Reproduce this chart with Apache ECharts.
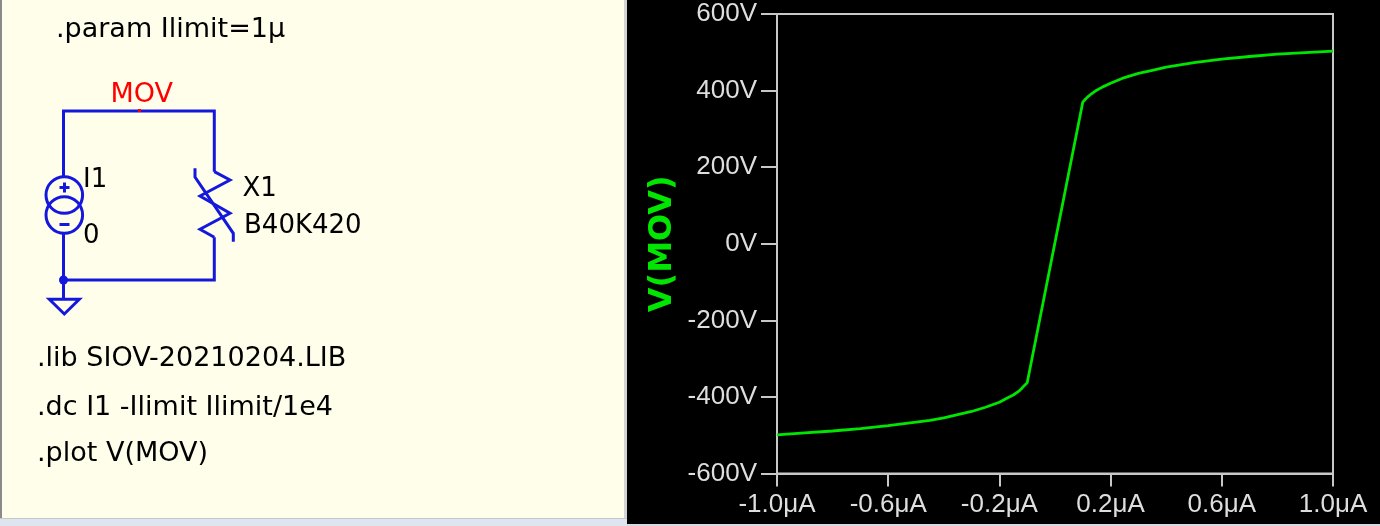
<!DOCTYPE html>
<html>
<head>
<meta charset="utf-8">
<script src="https://cdn.jsdelivr.net/npm/echarts@6/dist/echarts.min.js"></script>
<style>
  html, body { margin: 0; padding: 0; background: #000; }
  #chart { width: 1380px; height: 526px; }
</style>
</head>
<body>
<div id="chart"></div>
<script>
// ---- data ----
const currentUA = [-1.0, -0.9, -0.8, -0.7, -0.6, -0.5, -0.45, -0.4, -0.35, -0.3, -0.25, -0.2, -0.17, -0.15, -0.13, -0.12, -0.11, -0.1,
                   0.1, 0.11, 0.12, 0.13, 0.15, 0.17, 0.2, 0.25, 0.3, 0.35, 0.4, 0.45, 0.5, 0.6, 0.7, 0.8, 0.9, 1.0];
const voltageV  = [-499, -494, -489, -483, -475, -466, -461, -455, -446, -438, -427, -414, -402, -395, -385, -378, -370, -363,
                   370, 378, 385, 391, 401, 409, 419, 434, 445, 453, 461, 467, 473, 482, 489, 495, 499, 503];
const xTickValues = [-1.0, -0.6, -0.2, 0.2, 0.6, 1.0];
const yTickMin = -600, yTickMax = 600, yTickStep = 200;
const traceName = 'V(MOV)';
const directives = ['.lib SIOV-20210204.LIB', '.dc I1 -Ilimit Ilimit/1e4', '.plot V(MOV)'];
const paramText = '.param Ilimit=1\u03bc';

const seriesData = currentUA.map((x, i) => [x, voltageV[i]]);

const WIRE = '#1418dc';
const AX = '#c8c8c8';
const LBL = '#dedede';
const GREEN = '#00e600';
const TXT_FONT = '27px "DejaVu Sans"';
const LBL_FONT = '26px "DejaVu Sans"';

function wire(points) {
  return { type: 'polyline', shape: { points }, style: { stroke: WIRE, lineWidth: 3, fill: null }, silent: true };
}
function text(x, y, s, font, fill) {
  return { type: 'text', style: { x, y, text: s, font, fill: fill || '#000', verticalAlign: 'middle', align: 'left' }, silent: true };
}

const graphics = [
  // left schematic panel
  { type: 'rect', shape: { x: 0, y: 0, width: 627, height: 526 }, style: { fill: '#fffeea' }, z: -10, silent: true },
  { type: 'rect', shape: { x: 0, y: 0, width: 2, height: 518 }, style: { fill: '#8a8a8a' }, silent: true },
  { type: 'rect', shape: { x: 624, y: 0, width: 3, height: 526 }, style: { fill: '#d4d4d4' }, silent: true },
  { type: 'rect', shape: { x: 0, y: 518, width: 627, height: 8 }, style: { fill: '#dfe5ee' }, silent: true },
  { type: 'rect', shape: { x: 0, y: 518, width: 627, height: 1 }, style: { fill: '#c4c8cc' }, silent: true },
  { type: 'rect', shape: { x: 627, y: 524, width: 753, height: 2 }, style: { fill: '#d6dbe2' }, silent: true },

  // wires
  wire([[214.3, 171.7], [214.3, 111], [63.5, 111], [63.5, 176.7]]),
  wire([[63.5, 233.3], [63.5, 299.3]]),
  wire([[63.5, 280], [214.3, 280], [214.3, 237.3]]),
  // varistor zigzag and slash
  wire([[214.3, 171.7], [230, 180], [200, 196], [230, 213.3], [200, 229.3], [214.3, 237.3]]),
  wire([[195, 168.3], [195, 177], [233.3, 233.3], [233.3, 241.7]]),
  // current source
  { type: 'circle', shape: { cx: 64.3, cy: 195, r: 18.3 }, style: { stroke: WIRE, lineWidth: 3, fill: null }, silent: true },
  { type: 'circle', shape: { cx: 64.3, cy: 215, r: 18.3 }, style: { stroke: WIRE, lineWidth: 3, fill: null }, silent: true },
  wire([[59.5, 187.5], [69.5, 187.5]]),
  wire([[64.5, 182.5], [64.5, 192.5]]),
  wire([[59.5, 224.5], [69.5, 224.5]]),
  // junction + ground
  { type: 'circle', shape: { cx: 63.5, cy: 280, r: 4.5 }, style: { fill: WIRE }, silent: true },
  { type: 'polygon', shape: { points: [[49.3, 299.3], [79.3, 299.3], [64.3, 314]] }, style: { stroke: WIRE, lineWidth: 3, fill: null }, silent: true },
  // net label dot
  { type: 'rect', shape: { x: 138, y: 109, width: 3, height: 3 }, style: { fill: '#ff0000' }, silent: true, z: 10 },

  // texts
  text(56, 30, paramText, TXT_FONT),
  text(110.5, 95, 'MOV', TXT_FONT, '#ff0000'),
  text(83, 180, 'I1', LBL_FONT),
  text(83, 236.5, '0', LBL_FONT),
  text(242.5, 189, 'X1', LBL_FONT),
  text(244, 226.5, 'B40K420', LBL_FONT),
  text(37, 359, directives[0], TXT_FONT),
  text(37, 408, directives[1], TXT_FONT),
  text(37, 454, directives[2], TXT_FONT)
];

const chart = echarts.init(document.getElementById('chart'), null, { renderer: 'canvas' });
chart.setOption({
  backgroundColor: '#000',
  animation: false,
  graphic: graphics,
  grid: {
    left: 777, top: 14, width: 556, height: 459.5,
    show: true, borderColor: AX, borderWidth: 2, backgroundColor: 'transparent'
  },
  xAxis: {
    type: 'value', min: -1, max: 1,
    axisLine: { show: true, onZero: false, lineStyle: { color: AX, width: 2 } },
    axisTick: { show: true, length: 13, customValues: xTickValues, lineStyle: { color: AX, width: 2 } },
    axisLabel: {
      customValues: xTickValues, margin: 18, color: LBL,
      fontFamily: 'Liberation Sans', fontSize: 26,
      formatter: v => v.toFixed(1) + '\u03bcA'
    },
    splitLine: { show: false }
  },
  yAxis: {
    type: 'value', min: yTickMin, max: yTickMax, interval: yTickStep,
    name: traceName, nameLocation: 'middle', nameGap: 98, nameRotate: 90,
    nameTextStyle: { color: GREEN, fontFamily: 'DejaVu Sans', fontWeight: 'bold', fontSize: 32 },
    axisLine: { show: true, onZero: false, lineStyle: { color: AX, width: 2 } },
    axisTick: { show: true, length: 16, lineStyle: { color: AX, width: 2 } },
    axisLabel: {
      margin: 20, color: LBL, fontFamily: 'Liberation Sans', fontSize: 26,
      formatter: v => v + 'V'
    },
    splitLine: { show: false }
  },
  series: [{
    name: traceName, type: 'line', data: seriesData,
    showSymbol: false, smooth: false,
    lineStyle: { color: GREEN, width: 2.8 }
  }]
});
</script>
</body>
</html>
